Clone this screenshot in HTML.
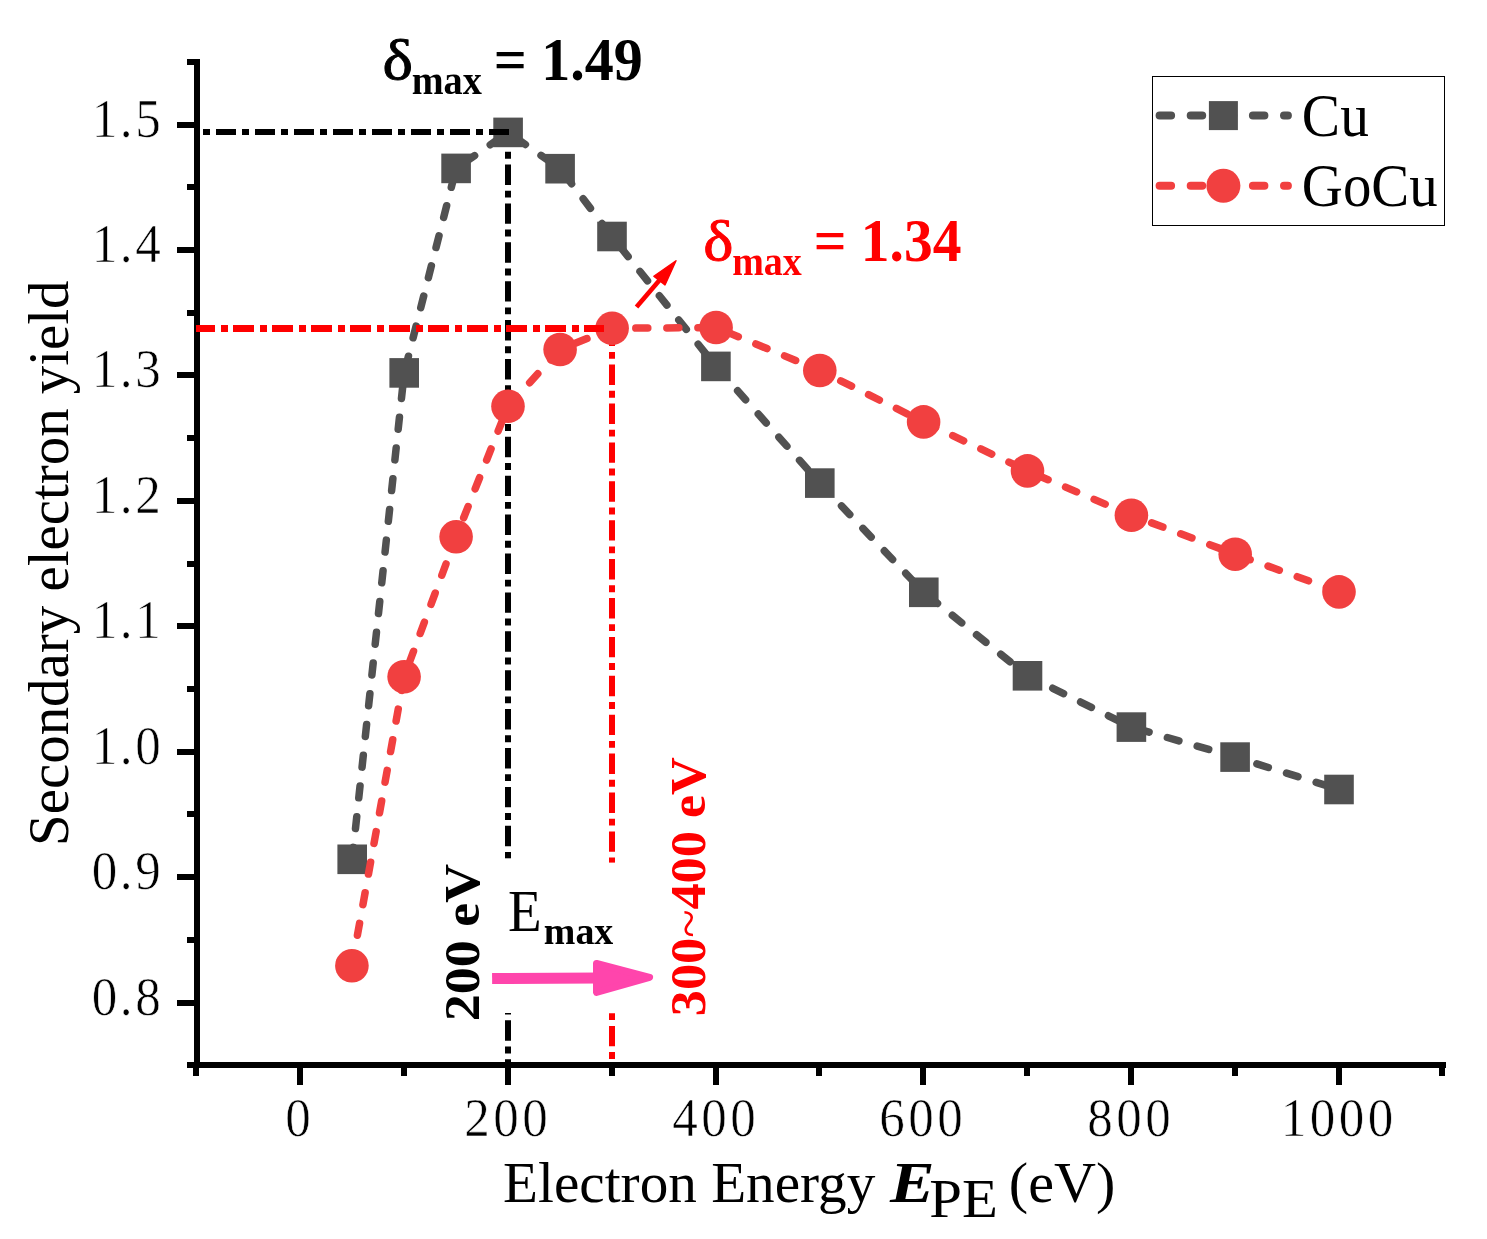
<!DOCTYPE html>
<html><head><meta charset="utf-8"><title>Secondary electron yield</title>
<style>html,body{margin:0;padding:0;background:#fff}svg{display:block}text{font-family:"Liberation Serif",serif}.b{font-weight:bold}.r{fill:#f00}</style></head><body>
<svg width="1487" height="1239" viewBox="0 0 1487 1239">
<rect width="1487" height="1239" fill="#fff"/>
<path fill="#000" shape-rendering="crispEdges" d="M194 59h6v1009h-6zM187 1062h1259v6h-1259zM177 1000h17v6h-17zM187 937h7v6h-7zM177 874h17v6h-17zM187 811h7v6h-7zM177 749h17v6h-17zM187 686h7v6h-7zM177 623h17v6h-17zM187 561h7v6h-7zM177 498h17v6h-17zM187 435h7v6h-7zM177 372h17v6h-17zM187 310h7v6h-7zM177 247h17v6h-17zM187 184h7v6h-7zM177 122h17v6h-17zM187 59h7v6h-7zM193 1068h6v8h-6zM297 1068h6v17h-6zM401 1068h6v8h-6zM505 1068h6v17h-6zM609 1068h6v8h-6zM713 1068h6v17h-6zM816 1068h6v8h-6zM920 1068h6v17h-6zM1024 1068h6v8h-6zM1128 1068h6v17h-6zM1232 1068h6v8h-6zM1336 1068h6v17h-6zM1439 1068h6v8h-6z"/>
<text transform="scale(0.934 1)" x="98.2 128.3 144.8" y="1014.8" font-size="54.7" stroke="#fff" stroke-width="0.6">0.8</text>
<text transform="scale(0.934 1)" x="98.2 128.3 144.8" y="888.8" font-size="54.7" stroke="#fff" stroke-width="0.6">0.9</text>
<text transform="scale(0.934 1)" x="98.2 128.3 144.8" y="763.8" font-size="54.7" stroke="#fff" stroke-width="0.6">1.0</text>
<text transform="scale(0.934 1)" x="98.2 128.3 144.8" y="637.8" font-size="54.7" stroke="#fff" stroke-width="0.6">1.1</text>
<text transform="scale(0.934 1)" x="98.2 128.3 144.8" y="512.8" font-size="54.7" stroke="#fff" stroke-width="0.6">1.2</text>
<text transform="scale(0.934 1)" x="98.2 128.3 144.8" y="386.8" font-size="54.7" stroke="#fff" stroke-width="0.6">1.3</text>
<text transform="scale(0.934 1)" x="98.2 128.3 144.8" y="261.8" font-size="54.7" stroke="#fff" stroke-width="0.6">1.4</text>
<text transform="scale(0.934 1)" x="98.2 128.3 144.8" y="136.8" font-size="54.7" stroke="#fff" stroke-width="0.6">1.5</text>
<text transform="scale(0.934 1)" x="305.5" y="1136.5" font-size="54.7" stroke="#fff" stroke-width="0.6">0</text>
<text transform="scale(0.934 1)" x="497.1 528.2 559.2" y="1136.5" font-size="54.7" stroke="#fff" stroke-width="0.6">200</text>
<text transform="scale(0.934 1)" x="719.8 750.9 781.9" y="1136.5" font-size="54.7" stroke="#fff" stroke-width="0.6">400</text>
<text transform="scale(0.934 1)" x="941.5 972.5 1003.6" y="1136.5" font-size="54.7" stroke="#fff" stroke-width="0.6">600</text>
<text transform="scale(0.934 1)" x="1164.2 1195.2 1226.3" y="1136.5" font-size="54.7" stroke="#fff" stroke-width="0.6">800</text>
<text transform="scale(0.934 1)" x="1371.3 1402.4 1433.4 1464.5" y="1136.5" font-size="54.7" stroke="#fff" stroke-width="0.6">1000</text>
<text transform="translate(503.09 1201.99) scale(1.0038 0.9923)" font-size="57">Electron Energy</text>
<text transform="translate(889.90 1202.10) scale(1.1714 0.9921)" font-size="57" font-weight="bold" font-style="italic">E</text>
<text transform="translate(929.34 1216.60) scale(1.0306 0.9816)" font-size="57">PE</text>
<text transform="translate(1008.84 1201.74) scale(1.0202 1.0137)" font-size="57">(eV)</text>
<text transform="translate(68.45 845.89) rotate(-90) scale(0.9980 1.0038)" font-size="57">Secondary electron yield</text>
<line x1="508" y1="125.6" x2="508" y2="1062.2" stroke="#000" stroke-width="6" stroke-dasharray="20.4 5.8 6.9 5.8"/>
<rect x="503" y="858.3" width="10" height="154.7" fill="#fff"/>
<g stroke="#515151" stroke-width="7.5" stroke-linecap="round" fill="none">
<line x1="352.2" y1="859.3" x2="404.2" y2="372.9" stroke-dasharray="12 18.90" stroke-dashoffset="0.00"/>
<line x1="404.2" y1="372.9" x2="456.1" y2="168.4" stroke-dasharray="12 19.05" stroke-dashoffset="25.85"/>
<line x1="456.1" y1="168.4" x2="508.1" y2="132.4" stroke-dasharray="12 19.05" stroke-dashoffset="20.55"/>
<line x1="508.1" y1="132.4" x2="560.1" y2="168.7" stroke-dasharray="12 19.05" stroke-dashoffset="21.95"/>
<line x1="560.1" y1="168.7" x2="612.0" y2="236.5" stroke-dasharray="12 19.05" stroke-dashoffset="24.15"/>
<line x1="612.0" y1="236.5" x2="715.9" y2="366.4" stroke-dasharray="12 19.05" stroke-dashoffset="17.25"/>
<line x1="715.9" y1="366.4" x2="819.8" y2="483.1" stroke-dasharray="12 19.05" stroke-dashoffset="29.45"/>
<line x1="819.8" y1="483.1" x2="923.8" y2="592.3" stroke-dasharray="12 19.05" stroke-dashoffset="30.65"/>
<line x1="923.8" y1="592.3" x2="1027.5" y2="675.8" stroke-dasharray="12 19.05" stroke-dashoffset="25.45"/>
<line x1="1027.5" y1="675.8" x2="1131.4" y2="727.1" stroke-dasharray="12 19.05" stroke-dashoffset="2.85"/>
<line x1="1131.4" y1="727.1" x2="1235.1" y2="757.1" stroke-dasharray="12 19.05" stroke-dashoffset="24.65"/>
<line x1="1235.1" y1="757.1" x2="1339.0" y2="789.5" stroke-dasharray="12 19.05" stroke-dashoffset="8.25"/>
</g>
<rect x="337.4" y="844.5" width="29.6" height="29.6" fill="#515151"/>
<rect x="389.4" y="358.1" width="29.6" height="29.6" fill="#515151"/>
<rect x="441.3" y="153.6" width="29.6" height="29.6" fill="#515151"/>
<rect x="493.3" y="117.6" width="29.6" height="29.6" fill="#515151"/>
<rect x="545.3" y="153.9" width="29.6" height="29.6" fill="#515151"/>
<rect x="597.2" y="221.7" width="29.6" height="29.6" fill="#515151"/>
<rect x="701.1" y="351.6" width="29.6" height="29.6" fill="#515151"/>
<rect x="805.0" y="468.3" width="29.6" height="29.6" fill="#515151"/>
<rect x="909.0" y="577.5" width="29.6" height="29.6" fill="#515151"/>
<rect x="1012.7" y="661.0" width="29.6" height="29.6" fill="#515151"/>
<rect x="1116.6" y="712.3" width="29.6" height="29.6" fill="#515151"/>
<rect x="1220.3" y="742.3" width="29.6" height="29.6" fill="#515151"/>
<rect x="1324.2" y="774.7" width="29.6" height="29.6" fill="#515151"/>
<line x1="197" y1="132" x2="509" y2="132" stroke="#000" stroke-width="6" stroke-dasharray="20 6 7 6" stroke-dashoffset="20" shape-rendering="crispEdges"/>
<line x1="612" y1="325.7" x2="612" y2="1062.2" stroke="#f00" stroke-width="6" stroke-dasharray="20.4 5.8 6.9 5.8"/>
<rect x="607" y="862.6" width="10" height="150.4" fill="#fff"/>
<g stroke="#F14040" stroke-width="7.5" stroke-linecap="round" fill="none">
<line x1="351.9" y1="965.8" x2="404.1" y2="676.7" stroke-dasharray="12 19.10" stroke-dashoffset="0.00"/>
<line x1="404.1" y1="676.7" x2="456.1" y2="536.8" stroke-dasharray="12 19.05" stroke-dashoffset="15.95"/>
<line x1="456.1" y1="536.8" x2="508.0" y2="406.3" stroke-dasharray="12 19.05" stroke-dashoffset="10.55"/>
<line x1="508.0" y1="406.3" x2="560.1" y2="349.5" stroke-dasharray="12 19.05" stroke-dashoffset="30.05"/>
<line x1="560.1" y1="349.5" x2="612.1" y2="328.3" stroke-dasharray="12 19.05" stroke-dashoffset="14.05"/>
<line x1="612.1" y1="328.3" x2="716.1" y2="327.5" stroke-dasharray="12 19.05" stroke-dashoffset="7.35"/>
<line x1="716.1" y1="327.5" x2="819.8" y2="370.5" stroke-dasharray="12 19.05" stroke-dashoffset="19.05"/>
<line x1="819.8" y1="370.5" x2="923.6" y2="421.9" stroke-dasharray="12 19.05" stroke-dashoffset="7.65"/>
<line x1="923.6" y1="421.9" x2="1027.5" y2="470.9" stroke-dasharray="12 19.05" stroke-dashoffset="29.85"/>
<line x1="1027.5" y1="470.9" x2="1131.4" y2="515.3" stroke-dasharray="12 19.05" stroke-dashoffset="20.70"/>
<line x1="1131.4" y1="515.3" x2="1235.2" y2="554.2" stroke-dasharray="12 19.05" stroke-dashoffset="9.45"/>
<line x1="1235.2" y1="554.2" x2="1339.0" y2="591.9" stroke-dasharray="12 19.05" stroke-dashoffset="27.15"/>
</g>
<circle cx="351.9" cy="965.8" r="16.8" fill="#F14040"/>
<circle cx="404.1" cy="676.7" r="16.8" fill="#F14040"/>
<circle cx="456.1" cy="536.8" r="16.8" fill="#F14040"/>
<circle cx="508.0" cy="406.3" r="16.8" fill="#F14040"/>
<circle cx="560.1" cy="349.5" r="16.8" fill="#F14040"/>
<circle cx="612.1" cy="328.3" r="16.8" fill="#F14040"/>
<circle cx="716.1" cy="327.5" r="16.8" fill="#F14040"/>
<circle cx="819.8" cy="370.5" r="16.8" fill="#F14040"/>
<circle cx="923.6" cy="421.9" r="16.8" fill="#F14040"/>
<circle cx="1027.5" cy="470.9" r="16.8" fill="#F14040"/>
<circle cx="1131.4" cy="515.3" r="16.8" fill="#F14040"/>
<circle cx="1235.2" cy="554.2" r="16.8" fill="#F14040"/>
<circle cx="1339.0" cy="591.9" r="16.8" fill="#F14040"/>
<line x1="196" y1="328.5" x2="604" y2="328.5" stroke="#f00" stroke-width="7" stroke-dasharray="21 6 7 5" stroke-dashoffset="2" shape-rendering="crispEdges"/>
<text transform="translate(382.54 79.35) scale(1.0792 0.9512)" font-size="60" stroke="#000" stroke-width="0.9">δ</text>
<text transform="translate(411.69 94.20) scale(1.0072 1.0722)" font-size="38" font-weight="bold">max</text>
<text transform="translate(493.70 79.80) scale(0.9678 1.0359)" font-size="60" font-weight="bold">= 1.49</text>
<text transform="translate(703.27 259.96) scale(1.0667 0.9419)" font-size="60" fill="#f00" stroke="#f00" stroke-width="0.9">δ</text>
<text transform="translate(732.20 274.70) scale(1.0000 1.0667)" font-size="38" font-weight="bold" fill="#f00">max</text>
<text transform="translate(813.72 260.70) scale(0.9587 1.0205)" font-size="60" font-weight="bold" fill="#f00">= 1.34</text>
<text transform="translate(508.10 930.80) scale(0.9484 1.0026)" font-size="58">E</text>
<text transform="translate(543.80 944.40) scale(0.9986 1.0222)" font-size="38" font-weight="bold">max</text>
<text transform="translate(478.60 1021.28) rotate(-90) scale(1.0383 0.9943)" font-size="52" font-weight="bold">200 eV</text>
<text transform="translate(705.10 1016.21) rotate(-90) scale(1.0051 0.9914)" font-size="52" font-weight="bold" fill="#f00">300<tspan font-weight="normal">~</tspan>400 eV</text>
<g fill="#FF45AC" stroke="#FF45AC"><line x1="492.1" y1="978.6" x2="600" y2="978.1" stroke-width="11"/><path d="M596.5 963.4 L649.6 977.4 L596.5 992.3 Z" stroke-width="7" stroke-linejoin="round"/></g>
<g fill="#f00" stroke="#f00"><line x1="636.5" y1="307.1" x2="662" y2="277.2" stroke-width="4.6"/><path d="M676.0 260.7 L653.8 276.2 L665.0 284.9 Z" stroke-width="1.4" stroke-linejoin="round"/></g>
<rect x="1152.5" y="76.5" width="292" height="149" fill="#fff" stroke="#000" stroke-width="1" shape-rendering="crispEdges"/>
<line x1="1159.6" y1="115.6" x2="1287.9" y2="115.6" stroke="#515151" stroke-width="8" stroke-dasharray="11.5 19.6" stroke-linecap="round" fill="none"/>
<rect x="1208.9" y="101.1" width="29" height="29" fill="#515151"/>
<line x1="1159.6" y1="185.8" x2="1287.9" y2="185.8" stroke="#F14040" stroke-width="8" stroke-dasharray="11.5 19.6" stroke-linecap="round" fill="none"/>
<circle cx="1223.4" cy="185.8" r="17" fill="#F14040"/>
<text transform="translate(1301.82 136.30) scale(0.9908 1.0658)" font-size="58">Cu</text>
<text transform="translate(1301.84 206.30) scale(0.9801 1.0632)" font-size="58">GoCu</text>
</svg></body></html>
